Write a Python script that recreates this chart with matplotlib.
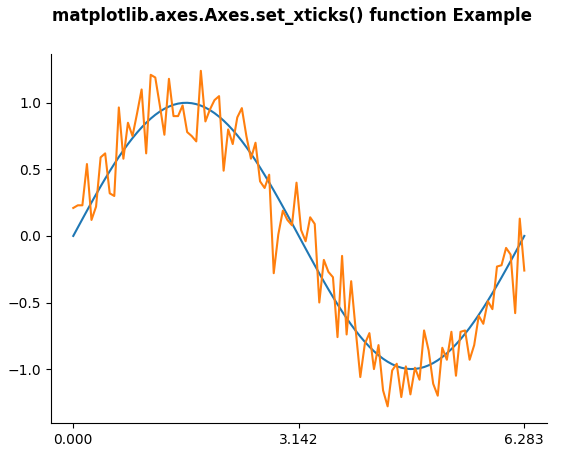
import numpy as np
import matplotlib
matplotlib.use("Agg")
import matplotlib.pyplot as plt

n_points = 100
noisy = [0.21, 0.23, 0.23, 0.54, 0.12, 0.22, 0.59, 0.62, 0.32, 0.30,
         0.965, 0.58, 0.85, 0.75, 0.92, 1.10, 0.62, 1.21, 1.19, 0.98,
         0.76, 1.18, 0.90, 0.90, 0.98, 0.78, 0.75, 0.71, 1.24, 0.86,
         0.95, 1.02, 1.05, 0.49, 0.80, 0.69, 0.89, 0.96, 0.75, 0.58,
         0.70, 0.41, 0.36, 0.46, -0.28, 0.01, 0.19, 0.12, 0.08, 0.40,
         0.045, -0.04, 0.14, 0.09, -0.50, -0.18, -0.27, -0.31, -0.76, -0.15,
         -0.74, -0.34, -0.71, -1.06, -0.81, -0.73, -1.00, -0.82, -1.16, -1.28,
         -1.01, -0.96, -1.21, -0.98, -1.19, -0.99, -1.08, -0.71, -0.86, -1.11,
         -1.20, -0.84, -0.93, -0.72, -1.05, -0.72, -0.71, -0.93, -0.82, -0.60,
         -0.66, -0.49, -0.55, -0.23, -0.22, -0.09, -0.14, -0.58, 0.13, -0.26]
xticks = [0, np.pi, 2 * np.pi]

x = np.linspace(0, 2 * np.pi, n_points)

fig = plt.figure(figsize=(5.83, 4.66), dpi=100)
ax = fig.add_axes([0.087, 0.092, 0.851, 0.792])
ax.plot(x, np.sin(x), color="#1f77b4", linewidth=1.5)
ax.plot(x, noisy, color="#ff7f0e", linewidth=1.5)

ax.set_xticks(xticks)
ax.set_xticklabels(["%.3f" % t for t in xticks])
ax.set_yticks([-1.0, -0.5, 0.0, 0.5, 1.0])
ax.spines["top"].set_visible(False)
ax.spines["right"].set_visible(False)

fig.suptitle("matplotlib.axes.Axes.set_xticks() function Example",
             fontweight="bold", fontsize=12, y=0.985)
fig.savefig("out.png")
